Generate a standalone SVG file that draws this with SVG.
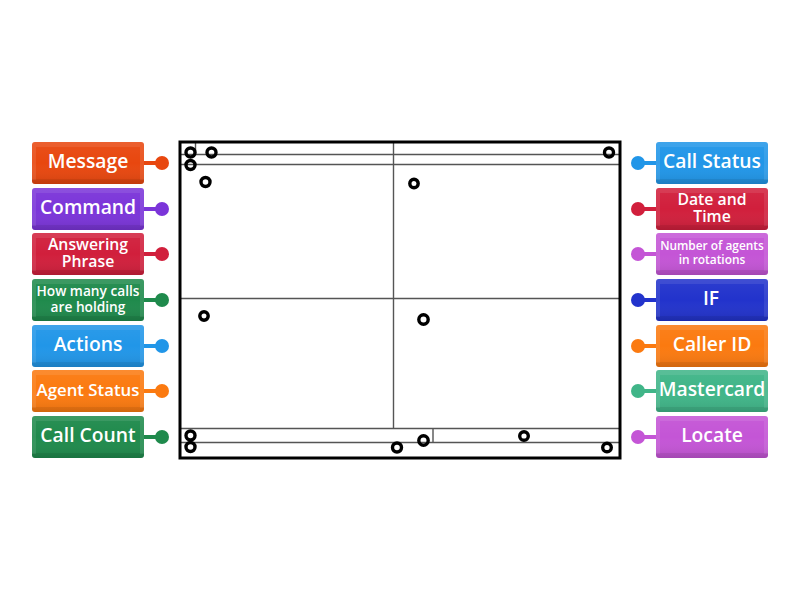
<svg xmlns="http://www.w3.org/2000/svg" width="800" height="600" viewBox="0 0 800 600">
<defs>
<linearGradient id="sheen" x1="0" y1="0" x2="0" y2="1"><stop offset="0" stop-color="#fff" stop-opacity="0.05"/><stop offset="0.5" stop-color="#fff" stop-opacity="0"/><stop offset="1" stop-color="#000" stop-opacity="0.1"/></linearGradient>
<g id="card">
<rect width="112" height="42" rx="3" fill="url(#sheen)"/>
<path d="M3 0H109A3 3 0 0 1 112 3V38H108V5H4V38H0V3A3 3 0 0 1 3 0Z" fill="#fff" fill-opacity=".09"/>
<path d="M0 37H112V39A3 3 0 0 1 109 42H3A3 3 0 0 1 0 39Z" fill="#000" fill-opacity=".07"/>
</g>
</defs>
<style>
text{font-family:"Open Sans","Noto Sans","Liberation Sans",sans-serif;font-weight:600;fill:#fff;text-anchor:middle}
.l{font-size:19.300px}.a{font-size:16.800px}.m{font-size:15.800px}.s{font-size:13.700px}.xs{font-size:11.900px}
.hole{fill:none;stroke:#000;stroke-width:3.400}
.fr{fill:none;stroke:#000;stroke-width:3}
.ln{stroke:#555;stroke-width:1.400;fill:none}
.conn{stroke-width:4;fill:none}
</style>
<rect width="800" height="600" fill="#fff"/>
<g id="figure">
<path class="ln" d="M180 154.500H620M180 164.500H620M180 298.500H620M180 428.500H620M180 442.500H620M393.500 142V428.500M433 428.500V442.500M195.500 142V154.500"/>
<rect x="180" y="142" width="440" height="316" class="fr"/>
<circle class="hole" cx="190.500" cy="152.500" r="4.500"/>
<circle class="hole" cx="211.500" cy="152.500" r="4.500"/>
<circle class="hole" cx="190.500" cy="165" r="4.500"/>
<circle class="hole" cx="205.500" cy="182" r="4.500"/>
<circle class="hole" cx="609" cy="152.500" r="4.500"/>
<circle class="hole" cx="414" cy="183.500" r="4.200"/>
<circle class="hole" cx="204" cy="316" r="4.200"/>
<circle class="hole" cx="423.500" cy="319.500" r="4.700"/>
<circle class="hole" cx="190.500" cy="435.500" r="4.500"/>
<circle class="hole" cx="190.500" cy="447" r="4.500"/>
<circle class="hole" cx="397" cy="447.500" r="4.500"/>
<circle class="hole" cx="423.500" cy="440.500" r="4.700"/>
<circle class="hole" cx="524" cy="436" r="4.300"/>
<circle class="hole" cx="607" cy="447.500" r="4.300"/>
</g>
<g id="connectors">
<path class="conn" stroke="#e8470f" d="M144 163H162"/>
<path class="conn" stroke="#7b35d9" d="M144 209H162"/>
<path class="conn" stroke="#d11f3c" d="M144 254H162"/>
<path class="conn" stroke="#1f8a4c" d="M144 300H162"/>
<path class="conn" stroke="#2196e8" d="M144 346H162"/>
<path class="conn" stroke="#fb7a10" d="M144 391H162"/>
<path class="conn" stroke="#1f8a4c" d="M144 437H162"/>
<path class="conn" stroke="#2196e8" d="M638 163H656"/>
<path class="conn" stroke="#d11f3c" d="M638 209H656"/>
<path class="conn" stroke="#c455d6" d="M638 254H656"/>
<path class="conn" stroke="#2233cc" d="M638 300H656"/>
<path class="conn" stroke="#fb7a10" d="M638 346H656"/>
<path class="conn" stroke="#40b588" d="M638 391H656"/>
<path class="conn" stroke="#c455d6" d="M638 437H656"/>
</g>
<g id="n1"><circle cx="162" cy="163" r="7" fill="#e8470f"/><rect x="32" y="142" width="112" height="42" rx="3" fill="#e8470f"/><use href="#card" x="32" y="142"/><text class="l" x="88" y="168">Message</text></g>
<g id="n2"><circle cx="162" cy="209" r="7" fill="#7b35d9"/><rect x="32" y="188" width="112" height="42" rx="3" fill="#7b35d9"/><use href="#card" x="32" y="188"/><text class="l" x="88" y="214">Command</text></g>
<g id="n3"><circle cx="162" cy="254" r="7" fill="#d11f3c"/><rect x="32" y="233" width="112" height="42" rx="3" fill="#d11f3c"/><use href="#card" x="32" y="233"/><text class="m" x="88" y="250">Answering<tspan x="88" dy="17">Phrase</tspan></text></g>
<g id="n4"><circle cx="162" cy="300" r="7" fill="#1f8a4c"/><rect x="32" y="279" width="112" height="42" rx="3" fill="#1f8a4c"/><use href="#card" x="32" y="279"/><text class="s" x="88" y="296">How many calls<tspan x="88" dy="16">are holding</tspan></text></g>
<g id="n5"><circle cx="162" cy="346" r="7" fill="#2196e8"/><rect x="32" y="325" width="112" height="42" rx="3" fill="#2196e8"/><use href="#card" x="32" y="325"/><text class="l" x="88" y="351">Actions</text></g>
<g id="n6"><circle cx="162" cy="391" r="7" fill="#fb7a10"/><rect x="32" y="370" width="112" height="42" rx="3" fill="#fb7a10"/><use href="#card" x="32" y="370"/><text class="a" x="88" y="395.500">Agent Status</text></g>
<g id="n7"><circle cx="162" cy="437" r="7" fill="#1f8a4c"/><rect x="32" y="416" width="112" height="42" rx="3" fill="#1f8a4c"/><use href="#card" x="32" y="416"/><text class="l" x="88" y="442">Call Count</text></g>
<g id="n8"><circle cx="638" cy="163" r="7" fill="#2196e8"/><rect x="656" y="142" width="112" height="42" rx="3" fill="#2196e8"/><use href="#card" x="656" y="142"/><text class="l" x="712" y="168">Call Status</text></g>
<g id="n9"><circle cx="638" cy="209" r="7" fill="#d11f3c"/><rect x="656" y="188" width="112" height="42" rx="3" fill="#d11f3c"/><use href="#card" x="656" y="188"/><text class="m" x="712" y="204.500">Date and<tspan x="712" dy="17">Time</tspan></text></g>
<g id="n10"><circle cx="638" cy="254" r="7" fill="#c455d6"/><rect x="656" y="233" width="112" height="42" rx="3" fill="#c455d6"/><use href="#card" x="656" y="233"/><text class="xs" x="712" y="250">Number of agents<tspan x="712" dy="13.500">in rotations</tspan></text></g>
<g id="n11"><circle cx="638" cy="300" r="7" fill="#2233cc"/><rect x="656" y="279" width="112" height="42" rx="3" fill="#2233cc"/><use href="#card" x="656" y="279"/><text class="l" x="711" y="305">IF</text></g>
<g id="n12"><circle cx="638" cy="346" r="7" fill="#fb7a10"/><rect x="656" y="325" width="112" height="42" rx="3" fill="#fb7a10"/><use href="#card" x="656" y="325"/><text class="l" x="712" y="351">Caller ID</text></g>
<g id="n13"><circle cx="638" cy="391" r="7" fill="#40b588"/><rect x="656" y="370" width="112" height="42" rx="3" fill="#40b588"/><use href="#card" x="656" y="370"/><text class="l" x="712" y="396">Mastercard</text></g>
<g id="n14"><circle cx="638" cy="437" r="7" fill="#c455d6"/><rect x="656" y="416" width="112" height="42" rx="3" fill="#c455d6"/><use href="#card" x="656" y="416"/><text class="l" x="712" y="442">Locate</text></g>
</svg>
